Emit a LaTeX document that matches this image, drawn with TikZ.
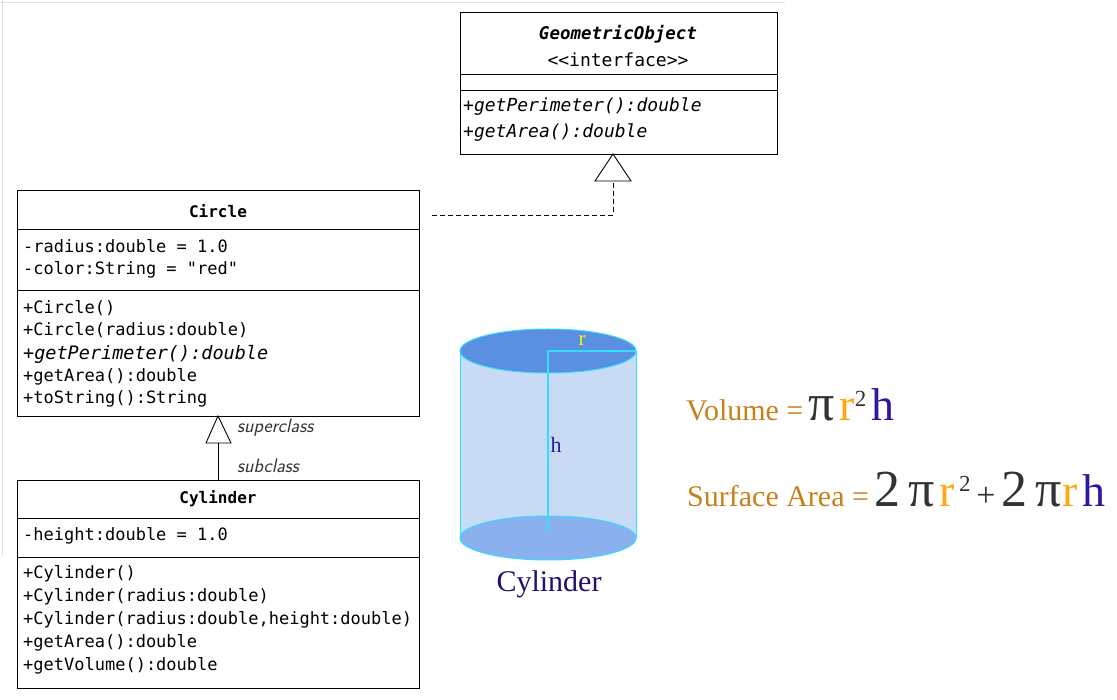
\documentclass[tikz,border=0pt]{standalone}
\usepackage{fontspec}
\setmainfont{Liberation Serif}
\newfontfamily\umlmono{DejaVu Sans Mono}
\usetikzlibrary{arrows.meta}
\definecolor{orng}{HTML}{C8801A}
\definecolor{rcol}{HTML}{FFA812}
\definecolor{hcol}{HTML}{2A1AA0}
\definecolor{pcol}{HTML}{333333}
\definecolor{cyl}{HTML}{33DDFF}
\definecolor{body}{HTML}{C9DAF5}
\definecolor{topc}{HTML}{5A8FE2}
\definecolor{botc}{HTML}{8AB0EE}
\begin{document}
\begin{tikzpicture}[x=1pt,y=-1pt,
  box/.style={draw=black,line width=0.9pt},
  sep/.style={draw=black,line width=0.9pt},
  mt/.style={font=\umlmono\fontsize{17}{18}\selectfont,anchor=west,inner sep=0},
  mtc/.style={font=\umlmono\fontsize{17}{18}\selectfont,inner sep=0},
  lbl/.style={font=\fontsize{30}{32}\selectfont,inner sep=0}]
\useasboundingbox (0,0) rectangle (1117,700);
\draw[gray!25] (2,0) -- (2,555);
\draw[gray!25] (0,2) -- (785,2);
% GeometricObject
\draw[box] (460,12) rectangle (777,154);
\draw[sep] (460,74) -- (777,74);
\draw[sep] (460,90) -- (777,90);
\node[mtc,font=\umlmono\bfseries\itshape\fontsize{17.5}{18}\selectfont] (go) at (618,34) {GeometricObject};
\node[mtc,font=\umlmono\fontsize{18}{18}\selectfont] at (618,60) {<{}<interface>{}>};
\node[mt,font=\umlmono\itshape\fontsize{18}{18}\selectfont] at (463,107) {+getPerimeter():double};
\node[mt,font=\umlmono\itshape\fontsize{18}{18}\selectfont] at (463,133) {+getArea():double};
\coordinate (goB) at (613,154);
% Circle
\draw[box] (17,190) rectangle (419,416);
\draw[sep] (17,229) -- (419,229);
\draw[sep] (17,290) -- (419,290);
\node[mtc,font=\umlmono\bfseries\fontsize{16}{18}\selectfont] at (218,211) {Circle};
\node[mt] at (23,246) {-radius:double = 1.0};
\node[mt] at (23,270) {-color:String = "red"};
\node[mt] at (23,308) {+Circle()};
\node[mt] at (23,330) {+Circle(radius:double)};
\node[mt,font=\umlmono\itshape\fontsize{18.5}{18}\selectfont] at (23,354) {+getPerimeter():double};
\node[mt] at (23,377) {+getArea():double};
\node[mt] at (23,399) {+toString():String};
\coordinate (circR) at (432,215);
\coordinate (circB) at (218,416);
% Cylinder box
\draw[box] (17,480) rectangle (419,688);
\draw[sep] (17,518) -- (419,518);
\draw[sep] (17,557) -- (419,557);
\node[mtc,font=\umlmono\bfseries\fontsize{16}{18}\selectfont] at (218,499) {Cylinder};
\node[mt] at (23,536) {-height:double = 1.0};
\node[mt] at (23,574) {+Cylinder()};
\node[mt] at (23,597) {+Cylinder(radius:double)};
\node[mt,font=\umlmono\fontsize{17}{18}\selectfont] at (23,620) {+Cylinder(radius:double,height:double)};
\node[mt] at (23,643) {+getArea():double};
\node[mt] at (23,666) {+getVolume():double};
\coordinate (cylT) at (218,480);
% connectors
\draw[black,line width=0.9pt,dash pattern=on 5pt off 3pt] (circR) -- (613,215) -- (613,181);
\draw[line width=0.9pt,fill=white] (goB) -- (595,181) -- (631,181) -- cycle;
\draw[line width=0.9pt] (cylT) -- (218,443);
\draw[line width=0.9pt,fill=white] (circB) -- (206,443) -- (231,443) -- cycle;
\node[anchor=west,inner sep=0,font=\sffamily\itshape\fontsize{19.5}{20}\selectfont,text=black!80] at (237,428) {superclass};
\node[anchor=west,inner sep=0,font=\sffamily\itshape\fontsize{19.5}{20}\selectfont,text=black!80] at (237,466) {subclass};
% 3D cylinder
\fill[body] (460,351) -- (460,538) arc[start angle=180,end angle=360,x radius=88,y radius=22] -- (636,351) -- cycle;
\draw[cyl,line width=0.5pt] (460,351) -- (460,538) (636,351) -- (636,538);
\draw[cyl,line width=1pt,fill=botc] (548,538) ellipse[x radius=88,y radius=22];
\draw[cyl,line width=1pt,fill=topc] (548,351) ellipse[x radius=88,y radius=22];
\draw[cyl,line width=1.5pt] (548,532) -- (548,351) -- (636,351);
\node[text=yellow,font=\fontsize{21}{22}\selectfont,inner sep=0] at (582,341) {r};
\node[text=hcol,font=\fontsize{22}{22}\selectfont,inner sep=0] at (556,445) {h};
\node[text=hcol!70!black,lbl] (cyltxt) at (549,584) {Cylinder};
% formulas
\node[lbl,anchor=base west,text=orng] at (686,421) {Volume =\,\textcolor{pcol}{\fontsize{52}{52}\selectfont π}\,\textcolor{rcol}{\fontsize{46}{46}\selectfont r}\raisebox{14pt}{\textcolor{pcol}{\fontsize{23}{23}\selectfont 2}}\,\textcolor{hcol}{\fontsize{46}{46}\selectfont h}};
\node[lbl,anchor=base west,text=orng] at (687,507) {Surface Area =\,\textcolor{pcol}{\fontsize{52}{52}\selectfont 2\,π}\,\textcolor{rcol}{\fontsize{46}{46}\selectfont r}\raisebox{16pt}{\textcolor{pcol}{\fontsize{23}{23}\selectfont\,2}}\textcolor{pcol}{\fontsize{34}{34}\selectfont\,+\,}\textcolor{pcol}{\fontsize{52}{52}\selectfont 2\,π}\textcolor{rcol}{\fontsize{46}{46}\selectfont r}\,\textcolor{hcol}{\fontsize{46}{46}\selectfont h}};
\end{tikzpicture}
\end{document}
